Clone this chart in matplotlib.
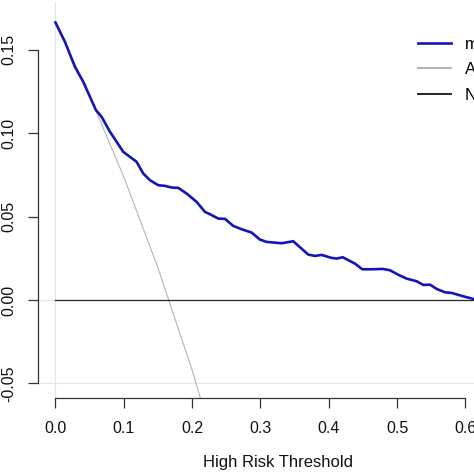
import matplotlib
matplotlib.use("Agg")
import matplotlib.pyplot as plt

plt.rcParams["font.family"] = ["Liberation Sans", "DejaVu Sans"]

# decision curve values
thresholds = [0.0, 0.0139, 0.0285, 0.0407, 0.0505, 0.0593, 0.0676, 0.0798, 0.0896,
              0.0992, 0.109, 0.1188, 0.1285, 0.1383, 0.1504, 0.1602, 0.1701, 0.1797,
              0.192, 0.2066, 0.2188, 0.2261, 0.2383, 0.2481, 0.2602, 0.2725, 0.2871,
              0.2993, 0.3091, 0.331, 0.348, 0.37, 0.3798, 0.3896, 0.4042, 0.4115,
              0.4203, 0.4383, 0.449, 0.4628, 0.4789, 0.4895, 0.5032, 0.514, 0.5286,
              0.5383, 0.5481, 0.5579, 0.57, 0.5798, 0.5968, 0.6115, 0.62]
model_nb = [0.1664, 0.1548, 0.1398, 0.1308, 0.1218, 0.1138, 0.1098, 0.1008, 0.0948,
            0.0888, 0.0858, 0.0828, 0.0758, 0.0718, 0.0688, 0.0684, 0.0674, 0.0672,
            0.0638, 0.0588, 0.0528, 0.0514, 0.0488, 0.0486, 0.0444, 0.0424, 0.0404,
            0.0362, 0.0348, 0.034, 0.0352, 0.0272, 0.0264, 0.027, 0.0252, 0.0248,
            0.0256, 0.0218, 0.0184, 0.0184, 0.0186, 0.0178, 0.0148, 0.0128, 0.0112,
            0.009, 0.0092, 0.0066, 0.0046, 0.0042, 0.0022, 0.0006, 0.0]

all_thresholds = [0.0, 0.05, 0.10, 0.15, 0.20, 0.25]
all_nb = [0.1664, 0.1225, 0.0738, 0.0193, -0.0420, -0.1115]

none_thresholds = [0.0, 0.65]
none_nb = [0.0, 0.0]

legend_labels = ["model", "All", "None"]
x_ticks = [0.0, 0.1, 0.2, 0.3, 0.4, 0.5, 0.6]
x_tick_labels = ["0.0", "0.1", "0.2", "0.3", "0.4", "0.5", "0.6"]
y_ticks = [-0.05, 0.0, 0.05, 0.10, 0.15]
y_tick_labels = ["-0.05", "0.00", "0.05", "0.10", "0.15"]

fig = plt.figure(figsize=(4.74, 4.74), dpi=100)
# plot region runs off the right and top of the crop, like the original
ax = fig.add_axes([0.0795, 0.1603, 1.012, 0.836])
ax.set_xlim(-0.026, 0.676)
ax.set_ylim(-0.0588, 0.1788)

# faint reference lines
light = "#e6e6e6"
ax.axvline(0.0, color=light, linewidth=0.8, zorder=1)
ax.axhline(-0.05, color=light, linewidth=0.8, zorder=1)
ax.axhline(0.0, color=light, linewidth=0.8, zorder=1)

ax.plot(all_thresholds, all_nb, color="#b4b4b4", linewidth=0.8, label=legend_labels[1], zorder=2)
ax.plot(none_thresholds, none_nb, color="#262626", linewidth=0.9, label=legend_labels[2], zorder=2)
ax.plot(thresholds, model_nb, color="#1414b8", linewidth=1.9, label=legend_labels[0],
        solid_joinstyle="round", zorder=3)

# R-style axes
for side in ("top", "right"):
    ax.spines[side].set_visible(False)
ax.spines["left"].set_bounds(-0.05, 0.15)
ax.spines["bottom"].set_bounds(0.0, 0.6)
for side in ("left", "bottom"):
    ax.spines[side].set_linewidth(0.9)
    ax.spines[side].set_color("#333333")

ax.set_xticks(x_ticks)
ax.set_xticklabels(x_tick_labels)
ax.set_yticks(y_ticks)
ax.set_yticklabels(y_tick_labels, rotation=90, va="center")
ax.tick_params(axis="both", direction="out", length=7, width=0.9, color="#333333",
               labelsize=11.5, labelcolor="#111111")
ax.tick_params(axis="x", pad=9.5)
ax.tick_params(axis="y", pad=8.5)

ax.set_xlabel("High Risk Threshold", fontsize=12, color="#111111", labelpad=14)

handles, labels = ax.get_legend_handles_labels()
order = [labels.index(l) for l in legend_labels]
leg = ax.legend([handles[i] for i in order], [labels[i] for i in order],
                loc="upper left", bbox_to_anchor=(418 / 474, 1 - 37 / 474),
                bbox_transform=fig.transFigure, frameon=False, fontsize=12,
                handlelength=1.95, handletextpad=0.85, labelspacing=0.62,
                borderpad=0, borderaxespad=0)
for line in leg.get_lines():
    line.set_linewidth(max(line.get_linewidth(), 1.4))

fig.savefig("out.png", dpi=100)
